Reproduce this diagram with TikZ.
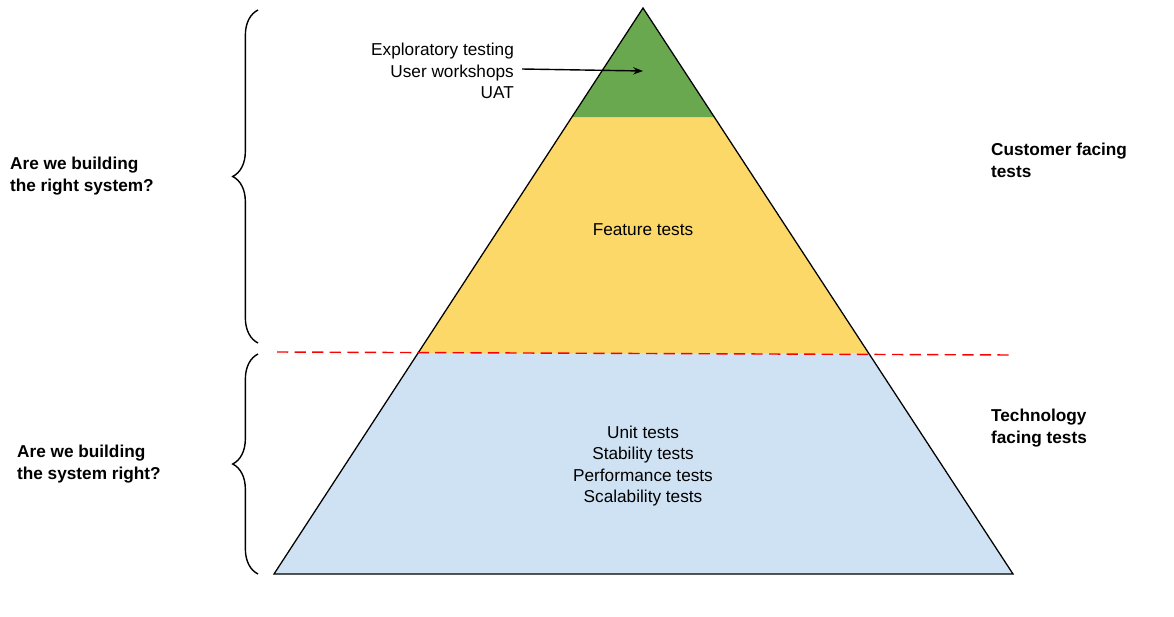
\documentclass[tikz,border=0pt]{standalone}
\usepackage{fontspec}
\setmainfont{Liberation Sans}
\usetikzlibrary{decorations.pathreplacing,arrows.meta}
\begin{document}
\begin{tikzpicture}[x=0.05cm,y=-0.05cm,
  lbl/.style={font=\fontsize{24.5}{30.5}\selectfont,inner sep=0pt},
  blbl/.style={lbl,font=\fontsize{24.5}{30.5}\selectfont\bfseries,align=left},
  brc/.style={draw,line width=2pt,decorate,decoration={brace,amplitude=36pt}}]
\useasboundingbox (0,0) rectangle (1174,616);
\fill[white] (0,0) rectangle (1174,616);
\coordinate (apex) at (643,8);
\coordinate (bl) at (274,574);
\coordinate (br) at (1013,574);
\fill[fill={rgb,255:red,207;green,226;blue,243}] (418,353) -- (868,353) -- (br) -- (bl) -- cycle;
\fill[fill={rgb,255:red,252;green,216;blue,105}] (572,117) -- (714,117) -- (868,353) -- (418,353) -- cycle;
\fill[fill={rgb,255:red,106;green,168;blue,79}] (apex) -- (714,117) -- (572,117) -- cycle;
\draw[line width=1.8pt] (apex) -- (br) -- (bl) -- cycle;
\draw[red,line width=2pt,dash pattern=on 16pt off 9pt] (277,352) -- (1013,355);
\draw[brc] (258,343) -- (258,10);
\draw[brc] (258,574) -- (258,354);
\node[blbl,anchor=north west] (q1) at (10,157) {Are we building\\the right system?};
\node[blbl,anchor=north west] (q2) at (17,445) {Are we building\\the system right?};
\node[blbl,anchor=north west] (c1) at (991,143) {Customer facing\\tests};
\node[blbl,anchor=north west] (c2) at (991,409) {Technology\\facing tests};
\node[lbl,align=right,anchor=north east] (top) at (514,43) {Exploratory testing\\User workshops\\UAT};
\coordinate (tgt) at (643,71);
\draw[-{Stealth[length=14pt]},line width=2pt] (522,69) -- (tgt);
\node[lbl] (ft) at (643,230) {Feature tests};
\node[lbl,align=center] (ut) at (643,466) {Unit tests\\Stability tests\\Performance tests\\Scalability tests};
\end{tikzpicture}
\end{document}
